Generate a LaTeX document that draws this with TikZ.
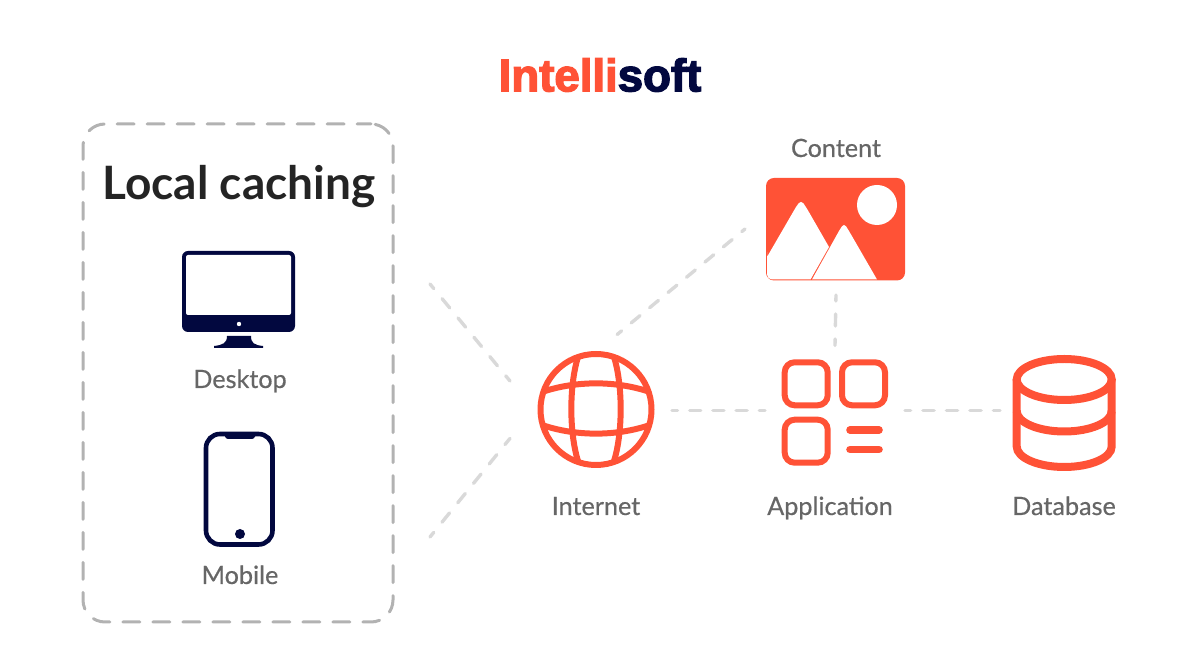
\documentclass[tikz,border=0pt]{standalone}
\usepackage{fontspec}
\setmainfont{Lato}
\newfontfamily\logofont[FakeBold=3]{Liberation Sans Bold}
\newfontfamily\labelfont[FakeBold=0.5]{Lato}
\usetikzlibrary{calc}
\definecolor{brandred}{HTML}{FF5236}
\definecolor{brandnavy}{HTML}{02083F}
\definecolor{labelgray}{HTML}{666666}
\definecolor{titlegray}{HTML}{242424}
\tikzstyle{iconbox}=[rectangle,inner sep=0pt,outer sep=0pt]
\tikzstyle{label}=[font=\labelfont\fontsize{12.6}{14}\selectfont,text=labelgray,inner sep=0pt,anchor=base]
\tikzstyle{link}=[draw=black!15,line width=1.7pt,line cap=round]
\tikzstyle{redicon}=[draw=brandred,line width=3pt]
\tikzstyle{navyicon}=[draw=brandnavy,line width=2.3pt]

\begin{document}
\begin{tikzpicture}[x=0.5pt,y=-0.5pt]
    \useasboundingbox (0,0) rectangle (1200,672);

    % Logo and box
    \node[inner sep=0pt,font=\logofont\fontsize{22.8}{24}\selectfont] (logo) at (600,75) {\textcolor{brandred}{Intelli}\textcolor{brandnavy}{soft}};
    \node[rectangle,draw=black!30,line width=1.5pt,rounded corners=11pt,dash pattern=on 8.5pt off 6.5pt,dash phase=1.6pt,line cap=round,minimum width=155pt,minimum height=249pt,inner sep=0pt] (localbox) at (238,373) {};
    \node[inner sep=0pt,anchor=base,text=titlegray,font=\bfseries\fontsize{23}{26}\selectfont] (title) at (239,200) {Local caching};

    % Hit areas of the icons, connectors end on their borders
    \node[iconbox,minimum width=81pt,minimum height=76pt] (internet) at (591,410.5) {};
    \node[iconbox,minimum width=70pt,minimum height=65pt] (application) at (835,410.5) {};
    \node[iconbox,minimum width=91pt,minimum height=66pt] (content) at (836,229) {};
    \node[iconbox,minimum width=64pt,minimum height=60pt] (database) at (1064,410.5) {};
    \coordinate (deskgap) at (430,284);
    \coordinate (mobilegap) at (430,537);

    % last value is the dash period in pt
    \foreach \source/ \dest/ \per in {deskgap/internet.160.3/12.5, mobilegap/internet.199/12.5, internet.71.8/content.west/11.95, content.south/application.north/12.5, internet.east/application.west/11.6, application.east/database.west/11.75}
        \path[link,dash pattern=on 0.477*\per pt off 0.523*\per pt,dash phase=0.238*\per pt] (\source) -- (\dest);

    % Labels
    \foreach \pos/ \name/ \txt in {{(240,388)/desktoplabel/Desktop}, {(240,584)/mobilelabel/Mobile}, {(836,157)/contentlabel/Content}, {(596,515)/internetlabel/Internet}, {(830,515)/applicationlabel/Application}, {(1064,515)/databaselabel/Database}}
        \node[label] (\name) at \pos {\txt};

    % Desktop
    \fill[brandnavy,rounded corners=3pt] (182,251) rectangle (295,332);
    \fill[white,rounded corners=1pt] (186,255) -- (291,255) -- (291,315) -- (186,315) -- cycle;
    \fill[white] (239,324) circle (2.2);
    \fill[brandnavy] (227,336) -- (251,336) .. controls (251,343) and (254,345) .. (263,346) -- (263,348) -- (214,348) -- (214,346) .. controls (223,345) and (227,343) .. (227,336) -- cycle;

    % Mobile
    \draw[navyicon] (206,434) [rounded corners=7pt] -- (272.5,434) -- (272.5,544.5) -- (206,544.5) -- cycle;
    \fill[brandnavy,rounded corners=1.5pt] (225,434) -- (255,434) -- (255,439) -- (225,439) -- cycle;
    \fill[brandnavy] (240,534) circle (5);

    % Content
    \fill[brandred,rounded corners=4pt] (766,178) rectangle (905,280.5);
    \fill[white] (877,205) circle (20);
    \fill[white,rounded corners=2.5pt] (810.5,279.5) -- (767,279.5) -- (767,257) [sharp corners] -- (767,257) -- (796,207) [rounded corners=2pt] -- (801,200) -- (806,207) [sharp corners] -- (829,247) -- cycle;
    \fill[white] (812,279.5) -- (839,231) [rounded corners=2pt] -- (844,223) -- (849,231) [sharp corners] -- (877,279.5) -- cycle;

    % Internet
    \draw[redicon] (596,409.5) circle (55.5);
    \draw[redicon] (578.3,356) .. controls (569,385) and (569,433) .. (578.3,462);
    \draw[redicon] (613.7,356) .. controls (623,385) and (623,433) .. (613.7,462);
    \draw[redicon] (542,392) .. controls (576,380.5) and (616,380.5) .. (650,392);
    \draw[redicon] (542,425) .. controls (576,436.5) and (616,436.5) .. (650,425);

    % Application
    \foreach \ax/ \ay in {784.7/362.3, 842/362.3, 784.7/419.7}
        \draw[redicon,rounded corners=5pt] (\ax,\ay) rectangle ++(43,43);
    \draw[brandred,line width=3.8pt,line cap=round] (850,430) -- (879,430);
    \draw[brandred,line width=3.8pt,line cap=round] (850,449.5) -- (879,449.5);

    % Database
    \draw[redicon,line width=4pt] (1064.2,379.5) ellipse (47.5 and 20.5);
    \draw[redicon,line width=4pt] (1016.7,379.5) -- (1016.7,446.5) arc[start angle=180,end angle=0,x radius=47.5,y radius=20.5] -- (1111.7,379.5);
    \draw[redicon,line width=4pt] (1016.7,411) arc[start angle=180,end angle=0,x radius=47.5,y radius=20.5];
\end{tikzpicture}
\end{document}
